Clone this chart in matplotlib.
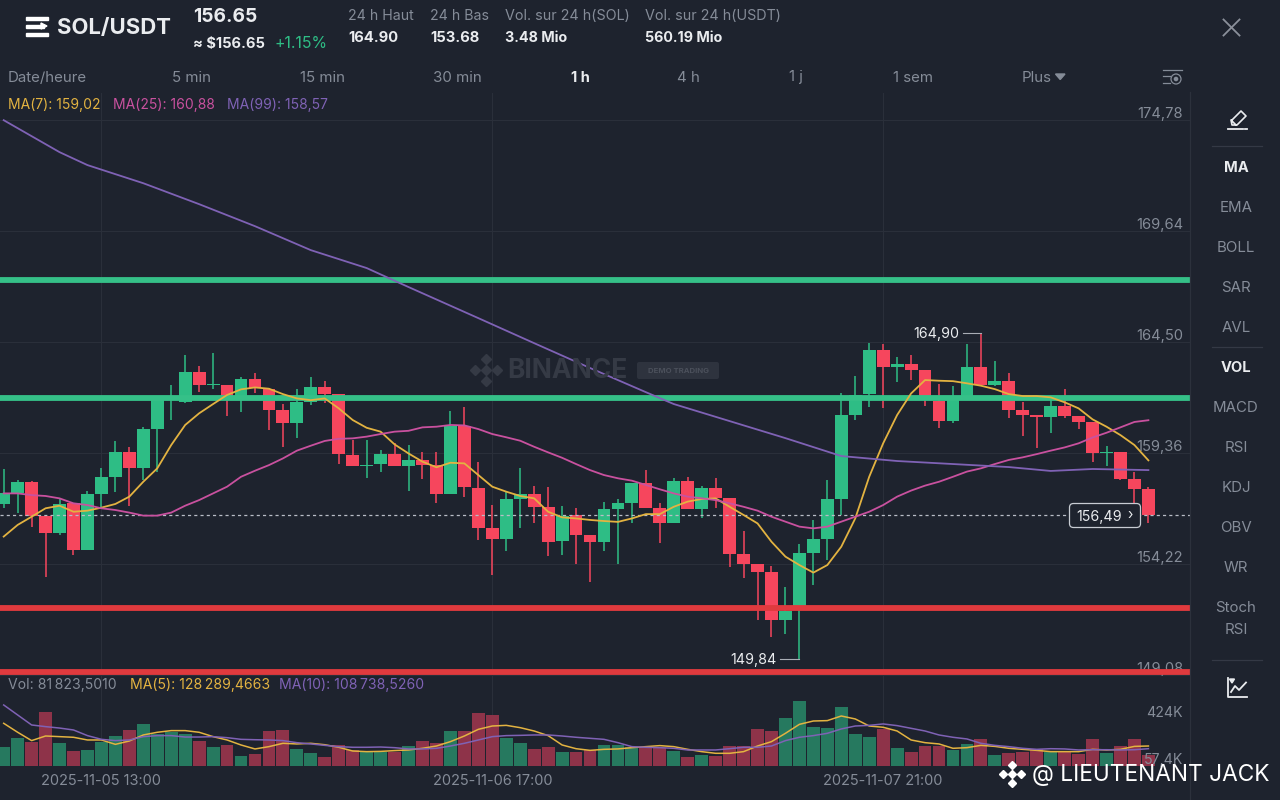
import matplotlib
matplotlib.use("Agg")
import matplotlib.pyplot as plt
from matplotlib.patches import FancyBboxPatch, Rectangle, Circle, Polygon

plt.rcParams['font.family'] = ['Inter', 'DejaVu Sans']

opens = [157.01,157.49,158.00,156.46,155.64,157.03,154.85,157.46,158.26,159.42,158.67,160.47,161.86,161.74,163.11,162.51,162.52,161.89,162.77,162.31,161.35,160.77,161.72,162.43,162.08,159.28,158.77,158.84,159.31,
         158.76,159.03,158.82,157.45,160.63,157.75,155.90,155.36,157.23,157.46,156.86,155.28,156.47,155.55,155.24,156.75,157.03,157.99,156.81,156.13,158.06,156.78,157.75,157.26,154.68,154.22,153.83,151.61,152.27,154.71,155.38,157.25,161.12,162.09,164.13,163.36,163.48,163.20,161.77,160.84,162.00,163.36,162.51,162.69,161.35,161.12,161.04,161.54,161.09,160.78,159.35,159.41,158.17,157.68]
closes = [157.49,158.00,156.46,155.67,157.00,154.85,157.46,158.26,159.42,158.67,160.47,161.97,161.92,163.11,162.51,162.57,162.02,162.77,162.36,161.35,160.77,161.72,162.42,162.09,159.30,158.76,158.82,159.31,158.76,
          159.02,158.82,157.48,160.63,157.77,155.90,155.36,157.21,157.45,156.84,155.25,156.44,155.55,155.25,156.75,157.03,157.99,156.81,156.13,158.06,156.78,157.75,157.26,154.68,154.22,153.83,151.61,152.06,154.71,155.38,157.25,161.12,162.05,164.13,163.36,163.48,163.20,162.00,160.84,162.00,163.36,162.51,162.69,161.35,161.10,161.04,161.54,161.09,160.81,159.35,159.39,158.17,157.68,156.49]
highs = [158.60,158.11,158.08,156.46,157.26,157.03,157.58,158.68,159.93,159.62,160.55,162.00,162.51,163.88,163.39,163.98,162.52,162.90,163.05,162.36,161.63,162.31,162.90,162.71,162.08,159.96,159.96,159.50,159.81,
         159.73,159.39,159.42,161.30,161.47,158.96,156.95,157.57,158.65,157.83,157.77,156.92,156.80,155.55,157.11,157.23,157.99,158.57,157.03,158.19,158.23,157.83,158.19,157.26,155.76,154.22,154.14,153.17,155.15,156.26,158.11,162.15,162.93,164.44,164.39,163.79,163.90,163.20,162.56,162.46,164.41,164.90,163.64,163.05,161.74,161.12,161.81,162.34,161.09,160.78,159.68,159.41,158.46,157.80]
lows = [156.80,156.57,155.92,153.60,155.56,154.64,154.85,156.80,157.54,156.91,158.11,158.50,160.89,161.66,162.17,162.31,161.07,161.24,162.12,160.43,159.65,160.07,161.57,161.69,158.85,158.76,158.19,158.48,158.76,
        157.62,158.14,157.06,157.45,157.31,155.33,153.71,154.81,155.87,156.10,154.59,154.64,154.20,153.40,154.84,154.20,156.13,156.81,155.21,156.13,156.78,156.33,156.80,154.07,153.59,151.63,150.85,150.96,149.84,153.25,154.41,156.49,160.89,161.47,161.46,162.66,162.74,161.54,160.53,160.73,161.89,162.51,162.46,160.97,160.15,159.61,160.27,160.97,160.49,158.96,158.76,158.11,157.03,156.13]

ma7 = [155.49,156.03,156.41,156.80,156.92,156.64,156.69,156.83,157.00,157.34,158.03,158.65,159.73,160.66,161.20,161.63,162.05,162.31,162.40,162.34,162.09,161.89,161.81,161.89,161.43,160.89,160.53,160.35,159.76,
       159.34,158.96,158.70,158.91,158.88,158.34,157.80,157.57,157.37,157.26,156.64,156.38,156.33,156.26,156.21,156.17,156.33,156.53,156.53,156.87,157.11,157.23,157.26,156.87,156.49,156.10,155.25,154.56,154.17,153.82,154.17,155.02,156.33,158.26,159.81,161.12,162.12,162.74,162.71,162.69,162.59,162.48,162.32,162.09,162.00,162.00,161.94,161.71,161.43,160.92,160.58,160.19,159.73,159.02]
ma25 = [157.49,157.49,157.41,157.37,157.26,157.03,156.95,156.80,156.72,156.60,156.46,156.46,156.60,156.92,157.18,157.49,157.80,158.26,158.54,158.80,159.11,159.47,159.70,159.92,160.02,160.04,160.12,160.24,160.35,
        160.39,160.55,160.58,160.66,160.64,160.47,160.24,160.09,159.93,159.65,159.39,159.14,158.85,158.57,158.34,158.19,158.08,157.88,157.68,157.49,157.34,157.26,157.18,157.03,156.87,156.69,156.41,156.18,155.95,155.87,155.95,156.18,156.41,156.64,156.95,157.34,157.62,157.85,158.03,158.26,158.50,158.65,158.85,159.04,159.16,159.31,159.47,159.62,159.81,160.08,160.30,160.55,160.80,160.88]
ma99_idx = [0,2,4,6,10,14,18,22,26,29,34,38,42,46,48,52,56,60,64,68,72,75,78,82]
ma99 = [174.78,174.04,173.30,172.70,171.86,170.89,169.87,168.76,167.93,167.05,165.61,164.45,163.30,162.18,161.63,160.84,160.05,159.22,158.99,158.85,158.71,158.53,158.62,158.57]

volume = [146,221,185,419,177,117,125,190,237,278,325,250,268,250,192,146,161,78,94,273,283,133,101,73,161,125,107,112,112,156,192,179,270,273,411,398,221,179,130,148,107,107,122,
          164,164,151,151,138,117,73,86,78,156,156,291,273,374,510,307,294,463,250,226,291,138,112,156,156,125,172,208,86,104,112,130,107,107,91,211,104,156,211,82]
vol_ma5 = [333,263,198,234,229,224,203,203,169,195,242,263,276,276,263,229,203,164,133,151,177,172,177,166,146,117,112,114,120,125,138,156,190,234,286,312,317,299,273,237,164,135,122,
           130,133,143,151,159,151,130,112,99,99,112,156,190,255,325,351,354,390,367,312,302,273,203,182,172,138,143,161,153,138,130,122,112,112,112,130,125,130,153,156]
vol_ma10 = [476,398,320,307,296,281,237,208,198,203,229,237,237,226,226,229,221,208,205,203,198,182,172,161,151,146,146,148,143,133,133,138,156,177,203,229,237,239,242,242,234,224,216,
            208,182,151,146,143,138,125,125,125,135,146,146,156,198,224,237,255,289,312,317,328,315,294,273,242,224,211,177,161,151,138,130,135,133,125,127,127,125,127,135]

price_ticks = [174.78,169.64,164.50,159.36,154.22,149.08]
support_levels = [152.20,149.20]
resistance_levels = [167.37,161.91]
last_price = 156.49
vol_ticks = [424,57.4]
vol_tick_labels = ['424K','57,4K']
date_ticks = [7,35,63]
date_labels = ['2025-11-05 13:00','2025-11-06 17:00','2025-11-07 21:00']
timeframes = ['Date/heure','5 min','15 min','30 min','1 h','4 h','1 j','1 sem','Plus']
side_items = ['MA','EMA','BOLL','SAR','AVL','VOL','MACD','RSI','KDJ','OBV','WR']

BG = '#1e232e'
GRID = '#2a2f3a'
UP = '#2ebd85'
DOWN = '#f6465d'
UP_V = '#26795f'
DOWN_V = '#8e3349'
C7 = '#e3b341'
C25 = '#c9519f'
C99 = '#7f62b5'
MUTED = '#858c98'
LIGHT = '#eaecef'

W, H = 1280, 800
fig = plt.figure(figsize=(W/100, H/100), dpi=100, facecolor=BG)

def px_axes(x0, ytop, x1, ybot):
    return fig.add_axes([x0/W, 1-ybot/H, (x1-x0)/W, (ybot-ytop)/H], facecolor='none')

ax = px_axes(0, 93, 1190, 676)
axv = px_axes(0, 676, 1190, 766)
n = len(opens)
xs = list(range(n))
XL = (-0.265, 84.98)

ax.set_xlim(*XL)
ax.set_ylim(149.03, 176.04)
axv.set_xlim(*XL)
axv.set_ylim(0, 702)

for a in (ax, axv):
    for s in a.spines.values():
        s.set_visible(False)
    a.set_xticks(date_ticks)
    a.grid(axis='x', color=GRID, lw=0.8, zorder=0)
    a.set_axisbelow(True)

ax.set_yticks(price_ticks)
ax.grid(axis='y', color=GRID, lw=0.8, zorder=0)
ax.tick_params(length=0, labelbottom=False, labelleft=False)
axv.set_yticks([])
axv.set_xticklabels(date_labels, color=MUTED, fontsize=10.5)
axv.tick_params(length=0, pad=6)

# candles
cols = [UP if c >= o else DOWN for o, c in zip(opens, closes)]
ax.vlines(xs, lows, highs, colors=cols, lw=1.1, zorder=2)
ax.bar(xs, [max(abs(c-o), 0.05) for o, c in zip(opens, closes)],
       bottom=[min(o, c) for o, c in zip(opens, closes)], width=0.92, color=cols, zorder=3)

# moving averages
ax.plot(xs, ma7, color=C7, lw=1.3, zorder=5)
ax.plot(xs, ma25, color=C25, lw=1.3, zorder=5)
ax.plot(ma99_idx, ma99, color=C99, lw=1.3, zorder=5)

# hand-drawn levels
for lv in resistance_levels:
    ax.axhline(lv, color='#35c088', lw=4.2, zorder=4)
for lv in support_levels:
    ax.axhline(lv, color='#e03a3e', lw=4.2, zorder=4)
ax.axhline(last_price, color='#b9bdc6', lw=0.9, ls=(0, (2.5, 2.5)), zorder=4)

# price labels
for t in price_ticks:
    ax.annotate(f'{t:.2f}'.replace('.', ','), (1, t), xycoords=('axes fraction', 'data'),
                xytext=(-7, 6), textcoords='offset pixels', ha='right', va='center',
                color=MUTED, fontsize=10.6, zorder=3)

# extremes
ax.plot([70, 70, 68.7], [highs[70], highs[70], highs[70]], color='#a9adb5', lw=0.8, zorder=6)
ax.annotate('164,90', (68.6, highs[70]), xytext=(-2, -1), textcoords='offset pixels',
            ha='right', va='center', color=LIGHT, fontsize=10.3, zorder=6)
ax.plot([57, 55.6], [lows[57], lows[57]], color='#a9adb5', lw=0.8, zorder=6)
ax.annotate('149,84', (55.5, lows[57]), xytext=(-2, -1), textcoords='offset pixels',
            ha='right', va='center', color=LIGHT, fontsize=10.3, zorder=6)

# volume
vcols = [UP_V if c >= o else DOWN_V for o, c in zip(opens, closes)]
axv.bar(xs, volume, width=0.92, color=vcols, zorder=2)
axv.plot(xs, vol_ma5, color=C7, lw=1.1, zorder=4)
axv.plot(xs, vol_ma10, color=C99, lw=1.1, zorder=4)
for t, lab in zip(vol_ticks, vol_tick_labels):
    axv.annotate(lab, (1, t), xycoords=('axes fraction', 'data'), xytext=(-7, -1),
                 textcoords='offset pixels', ha='right', va='center', color=MUTED, fontsize=10.2, zorder=5)

# chrome overlay, in pixel coordinates
ov = fig.add_axes([0, 0, 1, 1], facecolor='none', zorder=10)
ov.set_xlim(0, W)
ov.set_ylim(H, 0)
ov.axis('off')

def T(x, y, s, color=MUTED, size=10, weight='normal', ha='left', **kw):
    ov.text(x, y + 1.5, s, color=color, fontsize=size, fontweight=weight, ha=ha, va='center', **kw)

# header
for y, x1 in ((18, 48), (26, 44), (34, 48)):
    ov.add_patch(Rectangle((26, y-1.5), x1-26, 3, color='white'))
ov.add_patch(Polygon([[41, 23], [41, 29], [47, 26]], color='white'))
T(57, 26, 'SOL/USDT', LIGHT, 15.9, 'bold')
T(193, 15, '156.65', LIGHT, 13.9, 'bold')
T(193, 42.5, '≈ $156.65', LIGHT, 10.5, 'bold')
T(274, 42.5, '+1.15%', '#2ebd85', 11.4)
T(348, 14, '24 h Haut', MUTED, 10.2)
T(348, 37, '164.90', LIGHT, 10.6, 'bold')
T(430, 14, '24 h Bas', MUTED, 10.2)
T(430, 37, '153.68', LIGHT, 10.6, 'bold')
T(505, 14, 'Vol. sur 24 h(SOL)', MUTED, 10.3)
T(505, 37, '3.48 Mio', LIGHT, 10.3, 'bold')
T(645, 14, 'Vol. sur 24 h(USDT)', MUTED, 10.3)
T(645, 37, '560.19 Mio', LIGHT, 10.3, 'bold')
ov.plot([1223.5, 1239.5], [19.5, 35.5], color='#8b909a', lw=1.3)
ov.plot([1223.5, 1239.5], [35.5, 19.5], color='#8b909a', lw=1.3)

# timeframe row
tf_x = [8, 192, 323, 457, 580, 688, 796, 913, 1022]
for i, (x, s) in enumerate(zip(tf_x, timeframes)):
    if i == 0 or i == 8:
        T(x, 76, s, MUTED, 10.8)
    elif s == '1 h':
        T(x, 76, s, LIGHT, 10.6, 'bold', ha='center')
    else:
        T(x, 76, s, MUTED, 10.8, ha='center')
ov.add_patch(Polygon([[1055.5, 74], [1065, 74], [1060.2, 79.5]], color=MUTED))
ov.plot([1163, 1182], [70, 70], color=MUTED, lw=0.9)
ov.plot([1163, 1170], [76, 76], color=MUTED, lw=0.9)
ov.plot([1163, 1170], [83, 83], color=MUTED, lw=0.9)
ov.add_patch(Circle((1176, 79), 5, fill=False, ec=MUTED, lw=0.9))
ov.add_patch(Circle((1176, 79), 1.6, color=MUTED))

# legends
T(8, 104, 'MA(7): 159,02', C7, 10)
T(113, 104, 'MA(25): 160,88', C25, 10)
T(227, 104, 'MA(99): 158,57', C99, 10)
T(8, 684, 'Vol: 81\u202f823,5010', MUTED, 10.1)
T(130, 684, 'MA(5): 128\u202f289,4663', C7, 10.1)
T(279, 684, 'MA(10): 108\u202f738,5260', C99, 10.1)

# current price box
ov.add_patch(FancyBboxPatch((1069.5, 503.5), 71, 24, boxstyle='round,pad=0,rounding_size=4',
                            fc=BG, ec='#c8ccd3', lw=0.9, zorder=6, mutation_aspect=1))
T(1076, 515, '156,49', LIGHT, 10.3, zorder=7)
T(1127, 514, '›', LIGHT, 10, zorder=7)

# sidebar
ov.plot([1190, 1190], [92, 800], color='#2c313c', lw=0.9)
side_y = [167, 206, 246, 286, 326, 367, 407, 447, 487, 527, 567]
for s, y in zip(side_items, side_y):
    if s in ('MA', 'VOL'):
        T(1236, y, s, LIGHT, 10.6, 'bold', ha='center')
    else:
        T(1236, y, s, MUTED, 10.8, ha='center')
T(1236, 607, 'Stoch', MUTED, 10.8, ha='center')
T(1236, 628, 'RSI', MUTED, 10.8, ha='center')
for y in (146, 347, 660):
    ov.plot([1212, 1262], [y, y], color='#343945', lw=0.9)
# pencil icon
ov.plot([1232, 1241, 1246, 1237, 1232, 1231, 1236],
        [120, 111, 116, 125, 125, 120, 125], color=LIGHT, lw=1.2)
ov.plot([1228, 1243], [128.5, 128.5], color=LIGHT, lw=1.3)
ov.plot([1245, 1247], [128.5, 128.5], color=LIGHT, lw=1.3)
# chart icon
ov.plot([1227.5, 1227.5, 1247], [678, 696.5, 696.5], color=LIGHT, lw=1.3)
ov.plot([1231, 1235, 1239, 1246], [692, 686, 690, 682.5], color=LIGHT, lw=1.3)
ov.add_patch(Polygon([[1229.5, 679], [1234.5, 679], [1232, 683]], color=LIGHT))

# faint exchange mark
wm = '#353a45'
for x, y, sz in ((486, 359, 5), (486, 381, 5), (475, 370, 5), (497, 370, 5), (486, 370, 5)):
    ov.plot([x], [y], marker='D', ms=sz, color=wm, zorder=1)
T(507, 369, 'BINANCE', wm, 19, 'bold', zorder=1)
ov.add_patch(FancyBboxPatch((637, 362), 82, 17, boxstyle='round,pad=0,rounding_size=2', fc='#2e333e', ec='none', zorder=1))
T(678, 369.5, 'DEMO TRADING', '#4b505b', 5.6, 'bold', ha='center', zorder=2)

# bottom-right credit
for x, y, sz in ((1012, 765, 4), (1012, 783, 4), (1003, 774, 4), (1021, 774, 4), (1012, 774, 4)):
    ov.plot([x], [y], marker='D', ms=sz, color='white', zorder=8)
T(1032, 774, '@ LIEUTENANT JACK', 'white', 16.3, zorder=8)

fig.savefig('out.png', dpi=100, facecolor=BG)
